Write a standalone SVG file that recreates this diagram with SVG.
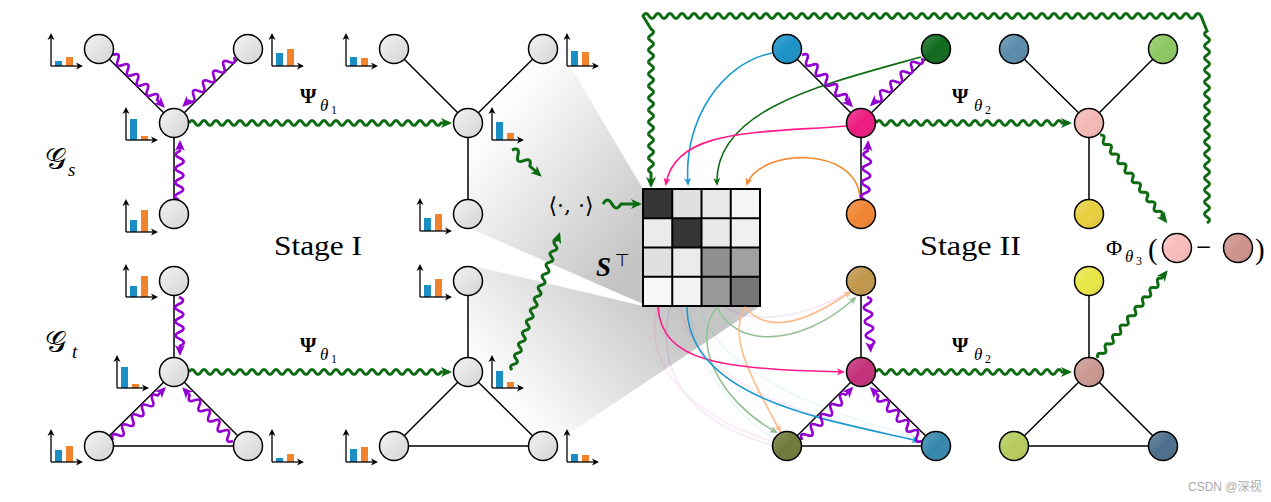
<svg xmlns="http://www.w3.org/2000/svg" width="1271" height="502" viewBox="0 0 1271 502">
<style>
.gn{fill:url(#gg);stroke:#000;stroke-width:1.5}
.ov{fill:url(#sh);stroke:#000;stroke-width:1.5}
.e{stroke:#000;stroke-width:1.5;fill:none}
.wp{fill:none;stroke:#9400d3;stroke-width:2.6;marker-end:url(#aP)}
.wg{fill:none;stroke:#0d6b12;stroke-width:3;marker-end:url(#aG)}
.ax{stroke:#000;stroke-width:1.3;fill:none;marker-end:url(#aK)}
.bb{fill:#1b8fc4}
.bo{fill:#f0832c}
.t{font-family:"Liberation Serif","DejaVu Serif",serif;fill:#000}
.c{fill:none;stroke-width:1.6}
.mx{stroke:#000;stroke-width:2}
</style>
<defs>
<linearGradient id="gg" x1="0" y1="0" x2="1" y2="1"><stop offset="0" stop-color="#f3f3f3"/><stop offset="1" stop-color="#d3d3d3"/></linearGradient>
<linearGradient id="sh" x1="0" y1="0" x2="1" y2="1"><stop offset="0" stop-color="#fff" stop-opacity="0.22"/><stop offset="0.5" stop-color="#fff" stop-opacity="0"/><stop offset="1" stop-color="#000" stop-opacity="0.12"/></linearGradient>
<linearGradient id="w1" gradientUnits="userSpaceOnUse" x1="490" y1="130" x2="643" y2="250"><stop offset="0" stop-color="#fdfdfd"/><stop offset="1" stop-color="#c4c4c4"/></linearGradient>
<linearGradient id="w2" gradientUnits="userSpaceOnUse" x1="520" y1="420" x2="660" y2="300"><stop offset="0" stop-color="#fefefe"/><stop offset="1" stop-color="#c6c6c6"/></linearGradient>
<marker id="aP" viewBox="-10 -6 14 12" refX="0" refY="0" markerWidth="14" markerHeight="12" markerUnits="userSpaceOnUse" orient="auto"><path d="M3,0 L-8,-5 L-5,0 L-8,5 Z" fill="#9400d3"/></marker>
<marker id="aG" viewBox="-10 -6 14 12" refX="0" refY="0" markerWidth="14" markerHeight="12" markerUnits="userSpaceOnUse" orient="auto"><path d="M3,0 L-8,-5 L-5,0 L-8,5 Z" fill="#0d6b12"/></marker>
<marker id="aK" viewBox="-8 -5 11 10" refX="0" refY="0" markerWidth="11" markerHeight="10" markerUnits="userSpaceOnUse" orient="auto"><path d="M2,0 L-5,-3.5 L-3,0 L-5,3.5 Z" fill="#000"/></marker>
<marker id="mB" viewBox="-8 -5 11 10" refX="0" refY="0" markerWidth="11" markerHeight="10" markerUnits="userSpaceOnUse" orient="auto"><path d="M2,0 L-6,-3.5 L-4,0 L-6,3.5 Z" fill="#1a9ad0"/></marker>
<marker id="mD" viewBox="-8 -5 11 10" refX="0" refY="0" markerWidth="11" markerHeight="10" markerUnits="userSpaceOnUse" orient="auto"><path d="M2,0 L-6,-3.5 L-4,0 L-6,3.5 Z" fill="#0d6b12"/></marker>
<marker id="mK" viewBox="-8 -5 11 10" refX="0" refY="0" markerWidth="11" markerHeight="10" markerUnits="userSpaceOnUse" orient="auto"><path d="M2,0 L-6,-3.5 L-4,0 L-6,3.5 Z" fill="#ff1a8c"/></marker>
<marker id="mO" viewBox="-8 -5 11 10" refX="0" refY="0" markerWidth="11" markerHeight="10" markerUnits="userSpaceOnUse" orient="auto"><path d="M2,0 L-6,-3.5 L-4,0 L-6,3.5 Z" fill="#f5892e"/></marker>
<marker id="mLG" viewBox="-8 -5 11 10" refX="0" refY="0" markerWidth="11" markerHeight="10" markerUnits="userSpaceOnUse" orient="auto"><path d="M2,0 L-6,-3.5 L-4,0 L-6,3.5 Z" fill="#93c293"/></marker>
<marker id="mLO" viewBox="-8 -5 11 10" refX="0" refY="0" markerWidth="11" markerHeight="10" markerUnits="userSpaceOnUse" orient="auto"><path d="M2,0 L-6,-3.5 L-4,0 L-6,3.5 Z" fill="#ffbb8a"/></marker>
<g id="ax"><path d="M0,0 V-31" class="ax"/><path d="M0,0 H30" class="ax"/></g>
</defs>
<rect width="1271" height="502" fill="#fff"/>

<g id="shading">
<polygon points="543,49 570,66 643,189 643,304 474,230 468,214 468,123" fill="url(#w1)"/>
<polygon points="468,281 478,267 643,306 760,306 565,436 543,446 468,372" fill="url(#w2)"/>
</g>

<g id="matrix">
<rect x="643" y="189" width="29.25" height="29.25" fill="#363636"/>
<rect x="672.25" y="189" width="29.25" height="29.25" fill="#e0e0e0"/>
<rect x="701.5" y="189" width="29.25" height="29.25" fill="#e8e8e8"/>
<rect x="730.75" y="189" width="29.25" height="29.25" fill="#f5f5f5"/>
<rect x="643" y="218.25" width="29.25" height="29.25" fill="#ebebeb"/>
<rect x="672.25" y="218.25" width="29.25" height="29.25" fill="#363636"/>
<rect x="701.5" y="218.25" width="29.25" height="29.25" fill="#e8e8e8"/>
<rect x="730.75" y="218.25" width="29.25" height="29.25" fill="#f0f0f0"/>
<rect x="643" y="247.5" width="29.25" height="29.25" fill="#e0e0e0"/>
<rect x="672.25" y="247.5" width="29.25" height="29.25" fill="#ebebeb"/>
<rect x="701.5" y="247.5" width="29.25" height="29.25" fill="#8f8f8f"/>
<rect x="730.75" y="247.5" width="29.25" height="29.25" fill="#a0a0a0"/>
<rect x="643" y="276.75" width="29.25" height="29.25" fill="#f7f7f7"/>
<rect x="672.25" y="276.75" width="29.25" height="29.25" fill="#f3f3f3"/>
<rect x="701.5" y="276.75" width="29.25" height="29.25" fill="#999"/>
<rect x="730.75" y="276.75" width="29.25" height="29.25" fill="#767676"/>
<path class="mx" d="M672.25,189 V306 M701.5,189 V306 M730.75,189 V306 M643,218.25 H760 M643,247.5 H760 M643,276.75 H760"/>
<rect x="643" y="189" width="117" height="117" fill="none" class="mx"/>
</g>

<g id="connectors">
<!-- graph edges -->
<path class="e" d="M99,49 L174,123 M248,49 L174,123 M174,123 V214"/>
<path class="e" d="M394,49 L468,123 M543,49 L468,123 M468,123 V214"/>
<path class="e" d="M174,281 V372 M174,372 L99,446 M174,372 L248,446 M99,446 H248"/>
<path class="e" d="M468,281 V372 M468,372 L394,446 M468,372 L543,446 M394,446 H543"/>
<path class="e" d="M787,49 L861,123 M936,49 L861,123 M861,123 V214"/>
<path class="e" d="M1014,49 L1089,123 M1163,49 L1089,123 M1089,123 V214"/>
<path class="e" d="M861,281 V372 M861,372 L787,446 M861,372 L936,446 M787,446 H936"/>
<path class="e" d="M1089,281 V372 M1089,372 L1014,446 M1089,372 L1163,446 M1014,446 H1163"/>

<!-- faint curves -->
<g opacity="0.09" class="c">
<path stroke="#ff1a8c" d="M658,307 C640,370 700,420 775,442"/>
<path stroke="#9400d3" d="M670,307 C650,395 720,432 776,446"/>
<path stroke="#1a9ad0" d="M700,307 C720,380 850,420 921,438"/>
<path stroke="#ff1a8c" d="M680,307 C700,400 850,425 921,441"/>
<path stroke="#9400d3" d="M725,307 C760,330 820,310 852,290"/>
<path stroke="#1a9ad0" d="M690,307 C690,360 740,420 776,440"/>
</g>

<!-- colored curves top -->
<path class="c" stroke="#1a9ad0" marker-end="url(#mB)" d="M772,53 C722,63 683,120 688,184"/>
<path class="c" stroke="#0d6b12" marker-end="url(#mD)" d="M921,57 C820,85 714,110 717,184"/>
<path class="c" stroke="#ff1a8c" marker-end="url(#mK)" d="M847,126 C760,133 675,128 666,184"/>
<path class="c" stroke="#f5892e" marker-end="url(#mO)" d="M860,199 C858,145 760,148 747,184"/>
<!-- colored curves bottom -->
<path class="c" stroke="#93c293" marker-end="url(#mLG)" d="M717,307 C735,348 800,348 855,298"/>
<path class="c" stroke="#93c293" marker-end="url(#mLG)" d="M717,307 C690,340 718,400 776,432"/>
<path class="c" stroke="#ffbb8a" marker-end="url(#mLO)" d="M745,307 C765,332 800,327 850,292"/>
<path class="c" stroke="#ffbb8a" marker-end="url(#mLO)" d="M745,307 C725,340 760,392 780,431"/>
<path class="c" stroke="#ff1a8c" marker-end="url(#mK)" d="M658,307 C662,362 720,369 843,372"/>
<path class="c" stroke="#1a9ad0" marker-end="url(#mB)" d="M687,307 C688,400 830,420 918,441"/>

<!-- purple wavy arrows -->
<path class="wp" transform="translate(113,55) rotate(45.5)" d="M0,0 q3.5,-8 7,0 t7,0 7,0 7,0 7,0 7,0 7,0 7,0 7,0 l8,0"/>
<path class="wp" transform="translate(234,57) rotate(136)" d="M0,0 q3.5,-8 7,0 t7,0 7,0 7,0 7,0 7,0 7,0 7,0 7,0 l6,0"/>
<path class="wp" transform="translate(179,200) rotate(-89)" d="M0,0 q3.5,-8 7,0 t7,0 7,0 7,0 7,0 7,0 7,0 l8,0"/>
<path class="wp" transform="translate(179,297) rotate(89)" d="M0,0 q3.5,-8 7,0 t7,0 7,0 7,0 7,0 7,0 7,0 l7,0"/>
<path class="wp" transform="translate(113,440) rotate(-45)" d="M0,0 q3.5,-8 7,0 t7,0 7,0 7,0 7,0 7,0 7,0 7,0 7,0 l9,0"/>
<path class="wp" transform="translate(233,441) rotate(-133.4)" d="M0,0 q3.5,-8 7,0 t7,0 7,0 7,0 7,0 7,0 7,0 7,0 7,0 l8,0"/>
<path class="wp" transform="translate(802,55) rotate(45.6)" d="M0,0 q3.5,-8 7,0 t7,0 7,0 7,0 7,0 7,0 7,0 7,0 7,0 l7,0"/>
<path class="wp" transform="translate(922,58) rotate(137.3)" d="M0,0 q3.5,-8 7,0 t7,0 7,0 7,0 7,0 7,0 7,0 7,0 7,0 l5,0"/>
<path class="wp" transform="translate(865,200) rotate(-87)" d="M0,0 q3.5,-8 7,0 t7,0 7,0 7,0 7,0 7,0 7,0 l8,0"/>
<path class="wp" transform="translate(867,297) rotate(86)" d="M0,0 q3.5,-8 7,0 t7,0 7,0 7,0 7,0 7,0 7,0 l4,0"/>
<path class="wp" transform="translate(802,440) rotate(-46)" d="M0,0 q3.5,-8 7,0 t7,0 7,0 7,0 7,0 7,0 7,0 7,0 7,0 l8,0"/>
<path class="wp" transform="translate(922,441) rotate(-134)" d="M0,0 q3.5,-8 7,0 t7,0 7,0 7,0 7,0 7,0 7,0 7,0 7,0 l9,0"/>

<!-- green wavy arrows -->
<path class="wg" transform="translate(189,123)" d="M0,0 q3,-5 6,0 t6,0 6,0 6,0 6,0 6,0 6,0 6,0 6,0 6,0 6,0 6,0 6,0 6,0 6,0 6,0 6,0 6,0 6,0 6,0 6,0 6,0 6,0 6,0 6,0 6,0 6,0 6,0 6,0 6,0 6,0 6,0 6,0 6,0 6,0 6,0 6,0 6,0 6,0 6,0 6,0 6,0 l8,0"/>
<path class="wg" transform="translate(189,372)" d="M0,0 q3,-5 6,0 t6,0 6,0 6,0 6,0 6,0 6,0 6,0 6,0 6,0 6,0 6,0 6,0 6,0 6,0 6,0 6,0 6,0 6,0 6,0 6,0 6,0 6,0 6,0 6,0 6,0 6,0 6,0 6,0 6,0 6,0 6,0 6,0 6,0 6,0 6,0 6,0 6,0 6,0 6,0 6,0 6,0 l8,0"/>
<path class="wg" transform="translate(876,123)" d="M0,0 q3,-5 6,0 t6,0 6,0 6,0 6,0 6,0 6,0 6,0 6,0 6,0 6,0 6,0 6,0 6,0 6,0 6,0 6,0 6,0 6,0 6,0 6,0 6,0 6,0 6,0 6,0 6,0 6,0 6,0 6,0 6,0 6,0 l7,0"/>
<path class="wg" transform="translate(876,372)" d="M0,0 q3,-5 6,0 t6,0 6,0 6,0 6,0 6,0 6,0 6,0 6,0 6,0 6,0 6,0 6,0 6,0 6,0 6,0 6,0 6,0 6,0 6,0 6,0 6,0 6,0 6,0 6,0 6,0 6,0 6,0 6,0 6,0 6,0 l7,0"/>
<path class="wg" transform="translate(512,150) rotate(42)" d="M0,0 q4,-8 8,0 t8,0 8,0 l13,0"/>
<path class="wg" transform="translate(512,370) rotate(-70.8)" d="M0,0 q3,-5 6,0 t6,0 6,0 6,0 6,0 6,0 6,0 6,0 6,0 6,0 6,0 6,0 6,0 6,0 6,0 6,0 6,0 6,0 6,0 6,0 6,0 6,0 6,0 l5,0"/>
<path class="wg" transform="translate(603,204)" d="M0,0 q4.5,-8 9,0 t9,0 l18,0"/>
<path class="wg" transform="translate(1100,135) rotate(52.7)" d="M0,0 q3,-5 6,0 t6,0 6,0 6,0 6,0 6,0 6,0 6,0 6,0 6,0 6,0 6,0 6,0 6,0 6,0 6,0 6,0 l6,0"/>
<path class="wg" transform="translate(1098,358) rotate(-51.5)" d="M0,0 q3,-5 6,0 t6,0 6,0 6,0 6,0 6,0 6,0 6,0 6,0 6,0 6,0 6,0 6,0 6,0 6,0 6,0 6,0 l7,0"/>
<path class="wg" d="M1207,223 q5,-3 0,-6 t0,-6 0,-6 0,-6 0,-6 0,-6 0,-6 0,-6 0,-6 0,-6 0,-6 0,-6 0,-6 0,-6 0,-6 0,-6 0,-6 0,-6 0,-6 0,-6 0,-6 0,-6 0,-6 0,-6 0,-6 0,-6 0,-6 0,-6 0,-6 0,-6 0,-6 0,-6 L1201,16 q-3,-5 -6,0 t-6,0 -6,0 -6,0 -6,0 -6,0 -6,0 -6,0 -6,0 -6,0 -6,0 -6,0 -6,0 -6,0 -6,0 -6,0 -6,0 -6,0 -6,0 -6,0 -6,0 -6,0 -6,0 -6,0 -6,0 -6,0 -6,0 -6,0 -6,0 -6,0 -6,0 -6,0 -6,0 -6,0 -6,0 -6,0 -6,0 -6,0 -6,0 -6,0 -6,0 -6,0 -6,0 -6,0 -6,0 -6,0 -6,0 -6,0 -6,0 -6,0 -6,0 -6,0 -6,0 -6,0 -6,0 -6,0 -6,0 -6,0 -6,0 -6,0 -6,0 -6,0 -6,0 -6,0 -6,0 -6,0 -6,0 -6,0 -6,0 -6,0 -6,0 -6,0 -6,0 -6,0 -6,0 -6,0 -6,0 -6,0 -6,0 -6,0 -6,0 -6,0 -6,0 -6,0 -6,0 -6,0 -6,0 -6,0 -6,0 -6,0 -6,0 -6,0 -6,0 L651,29 q5,3 0,6 t0,6 0,6 0,6 0,6 0,6 0,6 0,6 0,6 0,6 0,6 0,6 0,6 0,6 0,6 0,6 0,6 0,6 0,6 0,6 0,6 0,6 0,6 0,6 l0,12"/>
</g>

<!-- Stage I source graph -->
<g id="s_a"><circle cx="99" cy="49" r="14.5" class="gn"/><g transform="translate(51,66)"><rect x="4" y="-5" width="7" height="5" class="bb"/><rect x="15" y="-9" width="7" height="9" class="bo"/><use href="#ax"/></g></g>
<g id="s_b"><circle cx="248" cy="49" r="14.5" class="gn"/><g transform="translate(272,66)"><rect x="4" y="-13" width="7" height="13" class="bb"/><rect x="15" y="-17" width="7" height="17" class="bo"/><use href="#ax"/></g></g>
<g id="s_c"><circle cx="174" cy="123" r="14.5" class="gn"/><g transform="translate(126,140)"><rect x="4" y="-21" width="7" height="21" class="bb"/><rect x="15" y="-4" width="7" height="4" class="bo"/><use href="#ax"/></g></g>
<g id="s_d"><circle cx="174" cy="214" r="14.5" class="gn"/><g transform="translate(126,232)"><rect x="4" y="-12" width="7" height="12" class="bb"/><rect x="15" y="-22" width="7" height="22" class="bo"/><use href="#ax"/></g></g>
<g id="s2_a"><circle cx="394" cy="49" r="14.5" class="gn"/><g transform="translate(346,66)"><rect x="4" y="-9" width="7" height="9" class="bb"/><rect x="15" y="-8" width="7" height="8" class="bo"/><use href="#ax"/></g></g>
<g id="s2_b"><circle cx="543" cy="49" r="14.5" class="gn"/><g transform="translate(567,66)"><rect x="4" y="-15" width="7" height="15" class="bb"/><rect x="15" y="-14" width="7" height="14" class="bo"/><use href="#ax"/></g></g>
<g id="s2_c"><circle cx="468" cy="123" r="14.5" class="gn"/><g transform="translate(492,140)"><rect x="4" y="-18" width="7" height="18" class="bb"/><rect x="15" y="-7" width="7" height="7" class="bo"/><use href="#ax"/></g></g>
<g id="s2_d"><circle cx="468" cy="214" r="14.5" class="gn"/><g transform="translate(420,231)"><rect x="4" y="-13" width="7" height="13" class="bb"/><rect x="15" y="-17" width="7" height="17" class="bo"/><use href="#ax"/></g></g>
<!-- Stage I target graph -->
<g id="t_a"><circle cx="174" cy="281" r="14.5" class="gn"/><g transform="translate(126,297)"><rect x="4" y="-11" width="7" height="11" class="bb"/><rect x="15" y="-21" width="7" height="21" class="bo"/><use href="#ax"/></g></g>
<g id="t_b"><circle cx="174" cy="372" r="14.5" class="gn"/><g transform="translate(117,388)"><rect x="4" y="-21" width="7" height="21" class="bb"/><rect x="15" y="-4" width="7" height="4" class="bo"/><use href="#ax"/></g></g>
<g id="t_c"><circle cx="99" cy="446" r="14.5" class="gn"/><g transform="translate(51,462)"><rect x="4" y="-12" width="7" height="12" class="bb"/><rect x="15" y="-16" width="7" height="16" class="bo"/><use href="#ax"/></g></g>
<g id="t_d"><circle cx="248" cy="446" r="14.5" class="gn"/><g transform="translate(272,462)"><rect x="4" y="-4" width="7" height="4" class="bb"/><rect x="15" y="-8" width="7" height="8" class="bo"/><use href="#ax"/></g></g>
<g id="t2_a"><circle cx="468" cy="281" r="14.5" class="gn"/><g transform="translate(420,297)"><rect x="4" y="-12" width="7" height="12" class="bb"/><rect x="15" y="-18" width="7" height="18" class="bo"/><use href="#ax"/></g></g>
<g id="t2_b"><circle cx="468" cy="372" r="14.5" class="gn"/><g transform="translate(492,388)"><rect x="4" y="-17" width="7" height="17" class="bb"/><rect x="15" y="-6" width="7" height="6" class="bo"/><use href="#ax"/></g></g>
<g id="t2_c"><circle cx="394" cy="446" r="14.5" class="gn"/><g transform="translate(346,462)"><rect x="4" y="-13" width="7" height="13" class="bb"/><rect x="15" y="-15" width="7" height="15" class="bo"/><use href="#ax"/></g></g>
<g id="t2_d"><circle cx="543" cy="446" r="14.5" class="gn"/><g transform="translate(567,462)"><rect x="4" y="-8" width="7" height="8" class="bb"/><rect x="15" y="-7" width="7" height="7" class="bo"/><use href="#ax"/></g></g>

<!-- Stage II nodes -->
<g id="u_a"><circle cx="787" cy="49" r="14.5" fill="#1b92c6"/><circle cx="787" cy="49" r="14.5" class="ov"/></g>
<g id="u_b"><circle cx="936" cy="49" r="14.5" fill="#0f6a1e"/><circle cx="936" cy="49" r="14.5" class="ov"/></g>
<g id="u_c"><circle cx="861" cy="123" r="14.5" fill="#ec1a80"/><circle cx="861" cy="123" r="14.5" class="ov"/></g>
<g id="u_d"><circle cx="861" cy="214" r="14.5" fill="#f08432"/><circle cx="861" cy="214" r="14.5" class="ov"/></g>
<g id="v_a"><circle cx="1014" cy="49" r="14.5" fill="#5a8bab"/><circle cx="1014" cy="49" r="14.5" class="ov"/></g>
<g id="v_b"><circle cx="1163" cy="49" r="14.5" fill="#8cc862"/><circle cx="1163" cy="49" r="14.5" class="ov"/></g>
<g id="v_c"><circle cx="1089" cy="123" r="14.5" fill="#f4b8b6"/><circle cx="1089" cy="123" r="14.5" class="ov"/></g>
<g id="v_d"><circle cx="1089" cy="214" r="14.5" fill="#e8cf3e"/><circle cx="1089" cy="214" r="14.5" class="ov"/></g>
<g id="x_a"><circle cx="861" cy="281" r="14.5" fill="#c0964a"/><circle cx="861" cy="281" r="14.5" class="ov"/></g>
<g id="x_b"><circle cx="861" cy="372" r="14.5" fill="#c43079"/><circle cx="861" cy="372" r="14.5" class="ov"/></g>
<g id="x_c"><circle cx="787" cy="446" r="14.5" fill="#6f7a3a"/><circle cx="787" cy="446" r="14.5" class="ov"/></g>
<g id="x_d"><circle cx="936" cy="446" r="14.5" fill="#3687ad"/><circle cx="936" cy="446" r="14.5" class="ov"/></g>
<g id="y_a"><circle cx="1089" cy="281" r="14.5" fill="#e8e646"/><circle cx="1089" cy="281" r="14.5" class="ov"/></g>
<g id="y_b"><circle cx="1089" cy="372" r="14.5" fill="#c99890"/><circle cx="1089" cy="372" r="14.5" class="ov"/></g>
<g id="y_c"><circle cx="1014" cy="446" r="14.5" fill="#b6cb5e"/><circle cx="1014" cy="446" r="14.5" class="ov"/></g>
<g id="y_d"><circle cx="1163" cy="446" r="14.5" fill="#4c6f8c"/><circle cx="1163" cy="446" r="14.5" class="ov"/></g>
<g id="phi_a"><circle cx="1177" cy="248" r="14.5" fill="#f8bcbb"/><circle cx="1177" cy="248" r="14.5" class="ov"/></g>
<g id="phi_b"><circle cx="1238" cy="248" r="14.5" fill="#cc928c"/><circle cx="1238" cy="248" r="14.5" class="ov"/></g>

<!-- labels -->
<g id="labels" class="t">
<text x="45" y="169" font-family="DejaVu Sans, serif" font-size="30">𝒢</text>
<text x="68" y="176" font-style="italic" font-size="19">s</text>
<text x="45" y="352" font-family="DejaVu Sans, serif" font-size="30">𝒢</text>
<text x="72" y="358" font-style="italic" font-size="19">t</text>
<text x="300" y="103" font-weight="bold" font-size="21">Ψ</text>
<text x="320" y="111" font-style="italic" font-size="17">θ</text>
<text x="331" y="114" font-size="12">1</text>
<text x="300" y="352" font-weight="bold" font-size="21">Ψ</text>
<text x="320" y="360" font-style="italic" font-size="17">θ</text>
<text x="331" y="363" font-size="12">1</text>
<text x="952" y="103" font-weight="bold" font-size="21">Ψ</text>
<text x="974" y="111" font-style="italic" font-size="17">θ</text>
<text x="985" y="114" font-size="12">2</text>
<text x="952" y="352" font-weight="bold" font-size="21">Ψ</text>
<text x="974" y="360" font-style="italic" font-size="17">θ</text>
<text x="985" y="363" font-size="12">2</text>
<text x="274" y="255" font-size="28" textLength="88" lengthAdjust="spacingAndGlyphs">Stage I</text>
<text x="920" y="255" font-size="28" textLength="101" lengthAdjust="spacingAndGlyphs">Stage II</text>
<text x="571" y="213" font-family="DejaVu Serif, serif" font-size="22" text-anchor="middle">⟨·, ·⟩</text>
<text x="596" y="276" font-weight="bold" font-style="italic" font-size="27">S</text>
<text x="615" y="266" font-family="DejaVu Sans, serif" font-size="17">⊤</text>
<text x="1106" y="255" font-size="22">Φ</text>
<text x="1125" y="262" font-style="italic" font-size="17">θ</text>
<text x="1136" y="265" font-size="12">3</text>
<text x="1148" y="259" font-size="29">(</text>
<text x="1196" y="256" font-size="27">−</text>
<text x="1255" y="259" font-size="29">)</text>
<text x="1188" y="491" font-family="Liberation Sans, Noto Sans CJK SC, sans-serif" font-size="12" fill="#aaa">CSDN @深视</text>
</g>
</svg>
